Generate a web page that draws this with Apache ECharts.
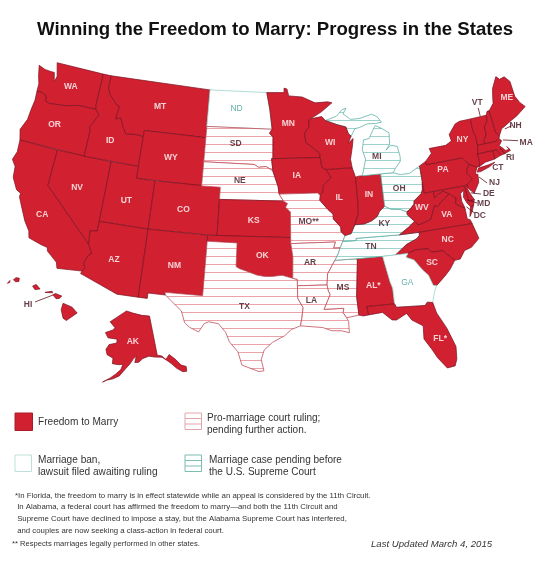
<!DOCTYPE html>
<html>
<head>
<meta charset="utf-8">
<style>html,body{margin:0;padding:0;background:#fff}#main{width:553px;height:562px}</style>
<script src="https://cdn.jsdelivr.net/npm/echarts@6/dist/echarts.min.js"></script>
</head>
<body>
<div id="main"></div>
<script>
var chartTitle = 'Winning the Freedom to Marry: Progress in the States';

// status of each state
var freedomStates = ['WA','OR','CA','NV','ID','MT','WY','UT','AZ','CO','NM','KS','OK','MN','IA','WI','IL','IN','WV','VA','NC','SC','PA','NY','VT','NH','ME','MA','RI','CT','NJ','DE','MD','DC','AL','FL','AK','HI'];
var courtRulingStates = ['SD','NE','TX','MO','AR','LA','MS'];
var banStates = ['ND','GA'];
var supremeCourtStates = ['MI','OH','KY','TN'];

var legendFreedom = ['Freedom to Marry'];
var legendCourt = ['Pro-marriage court ruling;', 'pending further action.'];
var legendBan = ['Marriage ban,', 'lawsuit filed awaiting ruling'];
var legendSupreme = ['Marriage case pending before', 'the U.S. Supreme Court'];
var footnotes = [
    '*In Florida, the freedom to marry is in effect statewide while an appeal is considered by the 11th Circuit.',
    ' In Alabama, a federal court has affirmed the freedom to marry\u2014and both the 11th Circuit and',
    ' Supreme Court have declined to impose a stay, but the Alabama Supreme Court has interfered,',
    ' and couples are now seeking a class-action in federal court.'
];
var footnote2 = '** Respects marriages legally performed in other states.';
var updated = 'Last Updated March 4, 2015';

// label suffixes
var labelText = {AL: 'AL*', FL: 'FL*', MO: 'MO**'};

// where each state's label sits [lon, lat]
var labelAnchor = {
    WA:[-120.4,47.35],OR:[-121.05,44],CA:[-119.8,36.55],NV:[-117,39.35],ID:[-114.6,43.65],MT:[-109.7,47.17],WY:[-107.7,43.1],
    UT:[-111.7,39.05],AZ:[-111.9,34.07],CO:[-105.7,38.9],NM:[-106,34.23],ND:[-100.75,47.55],SD:[-100.65,44.65],NE:[-100,41.65],
    KS:[-98.4,38.4],OK:[-97.45,35.5],TX:[-99.05,31.25],MN:[-94.7,46.4],IA:[-93.85,42.08],MO:[-92.75,38.3],AR:[-92.75,34.9],
    LA:[-92.75,31.75],WI:[-90,44.73],IL:[-89.45,40.08],MI:[-85,43.17],IN:[-86.3,40.17],OH:[-83.05,40.38],KY:[-85.05,37.67],
    TN:[-86.65,35.88],MS:[-89.7,32.72],AL:[-86.8,32.65],GA:[-83.55,32.62],FL:[-81.3,27.67],SC:[-80.9,33.98],NC:[-78.9,35.6],
    VA:[-78.45,37.67],WV:[-81,38.6],PA:[-77.9,41.36],NY:[-74.84,43.47],ME:[-68.71,45.94],
    VT:[-72.14,46.16],NH:[-68.66,43.54],MA:[-68.08,41.99],RI:[-70.21,41.1],CT:[-71.76,40.54],NJ:[-72.51,39.41],DE:[-73.35,38.63],MD:[-74.1,37.99],DC:[-74.83,37.09],
    AK:[-152.5,64],HI:[-158.64,20.12]
};

// leader lines from outside labels to small states
var leaders = [
    [[-72.18,45.74],[-72.19,45.06]],
    [[-69.09,43.62],[-69.91,43.52]],
    [[-68.87,42.3],[-70.44,42.68]],
    [[-70.62,41.52],[-70.98,42.1]],
    [[-73.25,39.55],[-73.93,40.17]],
    [[-74.15,38.77],[-75.3,39.05]],
    [[-74.8,38.11],[-75.9,38.55]],
    [[-75.35,37.35],[-76.1,37.99]],
    [[-158.09,20.35],[-156.69,20.88]]
];

var stateOutlines = {
    WA:[[[-124.73,48.38],[-123.9,48.17],[-123.2,48.15],[-122.75,48.15],[-122.45,47.4],[-122.3,47.9],[-122.76,49],[-117.03,49],[-117.04,46.42],[-116.92,45.99],[-118.98,46],[-119.3,45.93],[-120.5,45.7],[-121.2,45.65],[-122.3,45.55],[-122.76,45.65],[-122.9,46.1],[-123.4,46.25],[-124.05,46.27],[-124.1,46.9],[-124.4,47.5]]],
    OR:[[[-124.05,46.27],[-123.4,46.25],[-122.9,46.1],[-122.76,45.65],[-122.3,45.55],[-121.2,45.65],[-120.5,45.7],[-119.3,45.93],[-118.98,46],[-116.92,45.99],[-116.46,45.6],[-116.85,44.95],[-117.2,44.45],[-117.03,44.25],[-117.03,42],[-124.21,42],[-124.55,42.84],[-124.1,43.8],[-124.05,44.7],[-123.95,45.5]]],
    CA:[[[-124.21,42],[-120,42],[-120,39],[-114.63,35],[-114.14,34.3],[-114.43,34.1],[-114.72,33.4],[-114.52,33.03],[-114.72,32.72],[-117.12,32.53],[-117.3,33],[-118.4,33.75],[-118.5,34.03],[-119.2,34.15],[-120.47,34.45],[-120.65,34.98],[-121.3,35.7],[-121.9,36.6],[-122.5,37.5],[-122.5,37.8],[-123,38],[-123.7,38.9],[-123.85,39.8],[-124.35,40.3],[-124.1,41]]],
    NV:[[[-120,42],[-114.04,42],[-114.04,36.2],[-114.75,36.1],[-114.63,35],[-120,39]]],
    ID:[[[-117.03,49],[-116.05,49],[-116.05,48],[-115.7,47.45],[-114.7,46.7],[-114.35,46.65],[-114.5,45.55],[-113.95,45.7],[-113.45,44.95],[-113,44.45],[-112.3,44.55],[-111.5,44.55],[-111.05,44.48],[-111.05,42],[-117.03,42],[-117.03,44.25],[-117.2,44.45],[-116.85,44.95],[-116.46,45.6],[-116.92,45.99],[-117.04,46.42]]],
    MT:[[[-116.05,49],[-104.05,49],[-104.05,45],[-111.05,45],[-111.05,44.48],[-111.5,44.55],[-112.3,44.55],[-113,44.45],[-113.45,44.95],[-113.95,45.7],[-114.5,45.55],[-114.35,46.65],[-114.7,46.7],[-115.7,47.45],[-116.05,48]]],
    WY:[[[-111.05,45],[-104.05,45],[-104.05,41],[-111.05,41]]],
    UT:[[[-114.04,42],[-111.05,42],[-111.05,41],[-109.05,41],[-109.05,37],[-114.04,37]]],
    CO:[[[-109.05,41],[-102.05,41],[-102.05,37],[-109.05,37]]],
    AZ:[[[-114.04,37],[-109.05,37],[-109.05,31.33],[-111.07,31.33],[-114.81,32.5],[-114.72,32.72],[-114.52,33.03],[-114.72,33.4],[-114.43,34.1],[-114.14,34.3],[-114.63,35],[-114.75,36.1],[-114.04,36.2]]],
    NM:[[[-109.05,37],[-103,37],[-103.04,32],[-106.62,32],[-106.53,31.78],[-108.2,31.78],[-108.2,31.33],[-109.05,31.33]]],
    ND:[[[-104.05,49],[-97.23,49],[-96.85,47.6],[-96.56,45.94],[-104.05,45.94]]],
    SD:[[[-104.05,45.94],[-96.56,45.94],[-96.85,45.6],[-96.45,45.3],[-96.45,43.5],[-96.6,43.5],[-96.45,42.49],[-97.2,42.85],[-98,42.77],[-98.5,43],[-104.05,43]]],
    NE:[[[-104.05,43],[-98.5,43],[-98,42.77],[-97.2,42.85],[-96.45,42.49],[-96.1,41.7],[-95.88,41.2],[-95.77,40.58],[-95.31,40],[-102.05,40],[-102.05,41],[-104.05,41]]],
    KS:[[[-102.05,40],[-95.31,40],[-94.9,39.8],[-95.1,39.5],[-94.61,39.1],[-94.62,37],[-102.05,37]]],
    OK:[[[-103,37],[-94.62,37],[-94.62,36.5],[-94.43,35.4],[-94.48,33.64],[-95.5,33.9],[-96.5,33.8],[-97.2,33.8],[-97.95,33.9],[-98.95,34.2],[-99.7,34.4],[-100,34.56],[-100,36.5],[-103,36.5]]],
    TX:[[[-106.62,32],[-103.04,32],[-103,36.5],[-100,36.5],[-100,34.56],[-99.7,34.4],[-98.95,34.2],[-97.95,33.9],[-97.2,33.8],[-96.5,33.8],[-95.5,33.9],[-94.48,33.64],[-94.04,33.55],[-94.04,33.02],[-94.04,31.99],[-93.55,31.2],[-93.7,30.3],[-93.84,29.7],[-94.7,29.4],[-95.3,28.9],[-96.4,28.35],[-97.15,27.7],[-97.4,26.9],[-97.15,25.96],[-97.6,25.9],[-99.1,26.4],[-99.5,27.5],[-100.3,28.3],[-100.7,29.1],[-101.4,29.77],[-102.3,29.88],[-102.7,29.7],[-103.15,28.98],[-104,29.3],[-104.5,29.65],[-104.9,30.6],[-106,31.39],[-106.53,31.78]]],
    MN:[[[-97.23,49],[-95.15,49],[-95.15,49.38],[-94.8,49.3],[-94.6,48.72],[-93,48.6],[-91.5,48.07],[-90,48.1],[-89.5,48],[-90.8,47.3],[-92.1,46.75],[-92.3,46.65],[-92.3,46.1],[-92.85,45.6],[-92.75,44.8],[-91.9,44.3],[-91.25,43.85],[-91.22,43.5],[-96.45,43.5],[-96.45,45.3],[-96.85,45.6],[-96.56,45.94],[-96.85,47.6]]],
    IA:[[[-96.6,43.5],[-91.22,43.5],[-91.1,42.7],[-90.65,42.5],[-90.15,41.8],[-91.05,41.2],[-91.1,40.7],[-91.42,40.38],[-91.7,40.6],[-95.77,40.58],[-95.88,41.2],[-96.1,41.7],[-96.45,42.49]]],
    MO:[[[-95.77,40.58],[-91.7,40.6],[-91.42,40.38],[-91.5,40],[-90.7,39.2],[-90.2,38.8],[-90.2,38.4],[-89.5,37.7],[-89.5,37.3],[-89.13,36.98],[-89.4,36.5],[-89.7,36],[-90.37,36],[-90.15,36.5],[-94.62,36.5],[-94.62,37],[-94.61,39.1],[-95.1,39.5],[-94.9,39.8],[-95.31,40]]],
    AR:[[[-94.62,36.5],[-90.15,36.5],[-90.37,36],[-89.7,36],[-89.95,35.5],[-90.3,35],[-90.6,34.6],[-91.1,33.9],[-91.2,33],[-94.04,33.02],[-94.04,33.55],[-94.48,33.64],[-94.43,35.4]]],
    LA:[[[-94.04,33.02],[-91.2,33],[-91.1,32.5],[-90.95,32.2],[-91.6,31],[-89.75,31],[-89.85,30.65],[-89.55,30.2],[-89.4,29.9],[-89.4,28.95],[-90.1,29.15],[-91,29.2],[-91.8,29.5],[-92.3,29.55],[-93.84,29.7],[-93.7,30.3],[-93.55,31.2],[-94.04,31.99]]],
    MS:[[[-91.2,33],[-91.1,33.9],[-90.6,34.6],[-90.3,35],[-88.2,35],[-88.1,34.9],[-88.47,31.9],[-88.4,30.35],[-89.55,30.2],[-89.85,30.65],[-89.75,31],[-91.6,31],[-90.95,32.2],[-91.1,32.5]]],
    AL:[[[-88.2,35],[-85.6,35],[-85.18,32.87],[-85,32.3],[-85,31],[-87.6,31],[-87.5,30.3],[-88,30.25],[-88.4,30.35],[-88.47,31.9],[-88.1,34.9]]],
    TN:[[[-90.3,35],[-89.95,35.5],[-89.7,36],[-89.4,36.5],[-88.05,36.5],[-88.07,36.68],[-83.68,36.6],[-81.68,36.59],[-81.7,36.35],[-82,36.1],[-83.1,35.75],[-84.32,35],[-85.6,35],[-88.2,35]]],
    KY:[[[-89.4,36.5],[-89.13,36.98],[-88.5,37.1],[-88.05,37.8],[-87.1,37.8],[-86.3,38],[-85.7,38.3],[-85.4,38.7],[-84.8,39.1],[-84.25,38.8],[-83.2,38.65],[-82.6,38.4],[-82.6,38.15],[-81.97,37.54],[-82.7,37.1],[-83.68,36.6],[-88.07,36.68],[-88.05,36.5]]],
    IL:[[[-90.65,42.5],[-87.8,42.5],[-87.53,41.7],[-87.53,39.35],[-87.6,38.7],[-88.05,37.8],[-88.5,37.1],[-89.13,36.98],[-89.5,37.3],[-89.5,37.7],[-90.2,38.4],[-90.2,38.8],[-90.7,39.2],[-91.5,40],[-91.42,40.38],[-91.1,40.7],[-91.05,41.2],[-90.15,41.8]]],
    IN:[[[-87.53,41.7],[-87.2,41.76],[-84.8,41.76],[-84.8,39.1],[-85.4,38.7],[-85.7,38.3],[-86.3,38],[-87.1,37.8],[-88.05,37.8],[-87.6,38.7],[-87.53,39.35]]],
    OH:[[[-84.8,41.76],[-83.45,41.73],[-82.7,41.5],[-81.7,41.5],[-80.52,41.98],[-80.52,40.64],[-80.65,40],[-80.85,39.7],[-81.7,39.2],[-81.75,38.95],[-82.2,38.6],[-82.6,38.4],[-83.2,38.65],[-84.25,38.8],[-84.8,39.1]]],
    WV:[[[-80.52,40.64],[-80.52,39.72],[-79.48,39.72],[-79.48,39.2],[-78.9,39.45],[-78.4,39.62],[-77.72,39.32],[-78.35,39],[-78.87,38.76],[-79.3,38.42],[-79.65,38.55],[-80.3,37.5],[-81.25,37.25],[-81.68,37.2],[-81.97,37.54],[-82.6,38.15],[-82.6,38.4],[-82.2,38.6],[-81.75,38.95],[-81.7,39.2],[-80.85,39.7],[-80.65,40]]],
    VA:[[[-83.68,36.6],[-82.7,37.1],[-81.97,37.54],[-81.68,37.2],[-81.25,37.25],[-80.3,37.5],[-79.65,38.55],[-79.3,38.42],[-78.87,38.76],[-78.35,39],[-77.72,39.32],[-77.05,38.85],[-77.25,38.4],[-76.3,37.9],[-76.3,37],[-76,36.9],[-75.87,36.55],[-81.68,36.59]],[[-75.95,37.15],[-75.65,37.95],[-75.25,38.03],[-75.6,37.5]]],
    DC:[[[-77.12,38.93],[-77.04,39],[-76.91,38.89],[-77.04,38.8]]],
    MD:[[[-79.48,39.72],[-75.79,39.72],[-75.7,38.46],[-75.05,38.45],[-75.25,38.03],[-75.65,37.95],[-75.95,38.3],[-76.2,38.8],[-76,39.4],[-76.45,39.15],[-76.5,38.5],[-76.35,38.1],[-76.3,37.9],[-77.25,38.4],[-77.05,38.85],[-77.72,39.32],[-78.4,39.62],[-78.9,39.45],[-79.48,39.2]]],
    DE:[[[-75.79,39.72],[-75.41,39.8],[-75.55,39.45],[-75.4,39.05],[-75.05,38.45],[-75.7,38.46]]],
    PA:[[[-80.52,41.98],[-79.76,42.27],[-79.76,42],[-75.35,42],[-74.7,41.36],[-75.13,40.98],[-75.2,40.68],[-74.72,40.15],[-75.41,39.8],[-75.79,39.72],[-80.52,39.72]]],
    NJ:[[[-74.7,41.36],[-73.9,41],[-74.25,40.5],[-73.98,40.4],[-74.1,39.75],[-74.9,38.95],[-75.5,39.5],[-75.41,39.8],[-74.72,40.15],[-75.2,40.68],[-75.13,40.98]]],
    NY:[[[-79.76,42.27],[-78.9,42.85],[-79.05,43.27],[-77,43.28],[-76.2,43.55],[-76.3,44.1],[-75.3,44.85],[-74.7,45],[-73.35,45],[-73.4,44],[-73.25,43.55],[-73.27,42.75],[-73.5,42.05],[-73.5,41.3],[-73.65,41],[-73.9,41],[-74.7,41.36],[-75.35,42],[-79.76,42]],[[-74,40.6],[-73.75,40.9],[-72.6,40.98],[-71.9,41.07],[-72.6,40.8],[-73.6,40.58]]],
    VT:[[[-73.35,45],[-71.5,45],[-71.6,44.5],[-72.05,44.1],[-72.05,43.5],[-72.45,43],[-72.46,42.73],[-73.27,42.75],[-73.25,43.55],[-73.4,44]]],
    NH:[[[-71.5,45],[-71.3,45.3],[-71.05,45.3],[-70.98,43.4],[-70.7,43.07],[-70.82,42.87],[-71.3,42.7],[-72.46,42.73],[-72.45,43],[-72.05,43.5],[-72.05,44.1],[-71.6,44.5]]],
    ME:[[[-71.05,45.3],[-70.4,45.8],[-70.25,46.3],[-70,47],[-69.23,47.9],[-68.9,47.6],[-68.3,47.7],[-67.8,47.2],[-67.78,45.9],[-67.45,45.3],[-67,44.85],[-68.2,44.3],[-69,44.05],[-69.8,43.75],[-70.25,43.6],[-70.7,43.07],[-70.98,43.4]]],
    MA:[[[-73.5,42.05],[-73.27,42.75],[-72.46,42.73],[-71.3,42.7],[-70.82,42.87],[-70.6,42.65],[-71,42.3],[-70.65,42],[-70.5,41.8],[-70,41.8],[-70.25,42.07],[-69.95,41.7],[-70.65,41.55],[-71.12,41.5],[-71.38,42.02],[-71.8,42.02]]],
    RI:[[[-71.8,42.02],[-71.38,42.02],[-71.12,41.5],[-71.85,41.32]]],
    CT:[[[-73.5,42.05],[-71.8,42.02],[-71.85,41.32],[-72.9,41.25],[-73.65,41],[-73.5,41.3]]],
    MI:[[[-86.8,41.76],[-84.8,41.76],[-83.45,41.73],[-83.15,42.05],[-82.5,42.6],[-82.45,43],[-82.6,43.85],[-83.3,44],[-83.9,43.65],[-83.4,44.1],[-83.3,45.05],[-84.1,45.5],[-84.75,45.78],[-85.1,45.4],[-85.6,44.77],[-86.25,44.7],[-86.5,43.9],[-86.25,43.1],[-86.6,42.2]],[[-90.4,46.55],[-89.1,46.85],[-88.4,47.35],[-87.9,47.47],[-88.3,47],[-87.5,46.5],[-86.5,46.5],[-85,46.75],[-84.4,46.5],[-84,46],[-84.7,45.95],[-85.6,46],[-86.6,45.75],[-87.1,45.7],[-87.6,45.1],[-87.9,45.35],[-88.1,45.9],[-89.1,46.15]]],
    WI:[[[-92.3,46.65],[-92.1,46.75],[-90.8,46.9],[-90.4,46.55],[-89.1,46.15],[-88.1,45.9],[-87.9,45.35],[-87.6,45.1],[-88,44.55],[-87.4,44.9],[-87.55,44.3],[-87.9,43.2],[-87.8,42.5],[-90.65,42.5],[-91.1,42.7],[-91.22,43.5],[-91.25,43.85],[-91.9,44.3],[-92.75,44.8],[-92.85,45.6],[-92.3,46.1]]],
    NC:[[[-84.32,35],[-83.1,35.75],[-82,36.1],[-81.7,36.35],[-81.68,36.59],[-75.87,36.55],[-75.5,35.25],[-76.5,34.65],[-77.3,34.5],[-77.95,33.87],[-78.55,33.85],[-79.67,34.8],[-80.8,34.82],[-81.05,35.15],[-82.3,35.2],[-83.1,35]]],
    SC:[[[-83.1,35],[-82.3,35.2],[-81.05,35.15],[-80.8,34.82],[-79.67,34.8],[-78.55,33.85],[-79.2,33.2],[-79.9,32.7],[-80.85,32.03],[-81.15,32.1],[-81.45,33],[-81.9,33.45],[-82.6,34.4],[-83.35,34.7]]],
    GA:[[[-85.6,35],[-84.32,35],[-83.1,35],[-83.35,34.7],[-82.6,34.4],[-81.9,33.45],[-81.45,33],[-81.15,32.1],[-80.85,32.03],[-81.15,31.5],[-81.45,30.7],[-81.95,30.8],[-82.2,30.55],[-84.86,30.7],[-85,31],[-85,32.3],[-85.18,32.87]]],
    FL:[[[-87.6,31],[-85,31],[-84.86,30.7],[-82.2,30.55],[-81.95,30.8],[-81.45,30.7],[-81.25,29.8],[-80.55,28.4],[-80.03,26.8],[-80.15,25.75],[-80.4,25.2],[-81.1,25.13],[-81.8,26.1],[-82.2,26.9],[-82.75,27.8],[-82.65,28.9],[-83.6,29.5],[-84,30.1],[-85,29.65],[-85.4,29.7],[-86.2,30.4],[-87.5,30.3]]],
    AK:[[[-141,69.65],[-141,60.3],[-139,59.9],[-137.5,58.9],[-135.5,59.8],[-133.5,58.4],[-131.8,56.6],[-130,55.9],[-130.5,54.8],[-132,55],[-134,56.2],[-135.5,57.5],[-136.5,58.2],[-139,59.6],[-142.5,60],[-145,60.4],[-148,60],[-150,59.2],[-151.8,59.2],[-151,60.7],[-152.5,60],[-154,58.9],[-156.5,57.4],[-158.5,56],[-161,55.2],[-163.5,54.7],[-165,54.1],[-162,55.4],[-160,56.4],[-158,57.5],[-157.2,58.8],[-159,58.6],[-162,58.7],[-162,60],[-165,60.6],[-166,61.8],[-164.8,63],[-161,63.6],[-161,64.5],[-166,64.5],[-168,65.6],[-164,66.5],[-163,67.1],[-166.5,68.3],[-163,69.5],[-156.5,71.3],[-152,70.8],[-146,70.1]]],
    HI:[[[-160.25,21.78],[-160.05,22],[-160.07,21.85]],[[-159.78,22.05],[-159.58,22.22],[-159.32,22.18],[-159.35,21.93],[-159.6,21.9]],[[-158.28,21.57],[-158,21.7],[-157.7,21.35],[-158.1,21.3]],[[-157.3,21.1],[-156.75,21.17],[-156.72,21.05],[-157.3,21.08]],[[-156.7,20.9],[-156.5,21],[-156,20.8],[-156.2,20.62],[-156.45,20.6]],[[-155.9,20.25],[-155.2,19.95],[-154.8,19.5],[-155.65,18.92],[-155.9,19.1],[-156.05,19.75]]]
};

var RED = '#d1202f', DARK = '#7a1222', STRIPE_RED = '#e9a3a9', EDGE_RED = '#c2505c', TEAL = '#9dd3ca', EDGE_TEAL = '#5fb3a8';

function rad(d) { return d * Math.PI / 180; }

function conic(lat1, lat2, lon0) {
    var n = (Math.sin(rad(lat1)) + Math.sin(rad(lat2))) / 2;
    var c = Math.pow(Math.cos(rad(lat1)), 2) + 2 * n * Math.sin(rad(lat1));
    return function (lon, lat) {
        var rho = Math.sqrt(c - 2 * n * Math.sin(rad(lat))) / n;
        var t = n * rad(lon - lon0);
        return [rho * Math.sin(t), rho * Math.cos(t)];
    };
}
var lower48 = conic(29.5, 45.5, -96);
var alaska = conic(55, 65, -154);

// lower 48 albers, alaska and hawaii moved to their insets, output in page pixels
function project(p) {
    var lon = p[0], lat = p[1], q;
    if (lat > 51) {
        q = alaska(lon, lat);
        return [130 + 245 * q[0], 217.7 + 245 * q[1]];
    }
    if (lat < 25 && lon < -150) {
        return [49 + 12.8 * (lon + 157), 300 - 13 * (lat - 20.5)];
    }
    // the original pulls the mid-atlantic and new england coast in a little
    if (lon > -74) lon -= 0.6;
    else if (lon > -80) lon -= (lon + 80) * 0.1;
    q = lower48(lon, lat);
    return [277 + 718 * q[0], 690 * q[1] - 667.7];
}

function statusOf(name) {
    if (courtRulingStates.indexOf(name) >= 0) return 'court';
    if (banStates.indexOf(name) >= 0) return 'ban';
    if (supremeCourtStates.indexOf(name) >= 0) return 'supreme';
    return 'freedom';
}

function stripes(color) {
    var c = document.createElement('canvas');
    c.width = 8; c.height = 8;
    var ctx = c.getContext('2d');
    ctx.fillStyle = '#fff';
    ctx.fillRect(0, 0, 8, 8);
    ctx.fillStyle = color;
    ctx.fillRect(0, 0, 8, 1);
    return {image: c, repeat: 'repeat'};
}

var regionStyle = {
    freedom: {areaColor: RED, borderColor: DARK, borderWidth: 0.7},
    court: {areaColor: stripes(STRIPE_RED), borderColor: EDGE_RED, borderWidth: 0.8},
    ban: {areaColor: '#fff', borderColor: TEAL, borderWidth: 0.8},
    supreme: {areaColor: stripes(TEAL), borderColor: EDGE_TEAL, borderWidth: 0.8}
};

var names = Object.keys(stateOutlines);
var features = names.map(function (name) {
    return {type: 'Feature', properties: {name: name}, geometry: {type: 'MultiPolygon', coordinates: stateOutlines[name].map(function (r) { return [r]; })}};
});
echarts.registerMap('usa', {type: 'FeatureCollection', features: features});

// bounds in page pixels so that the map is laid out at scale 1
var xs = [], ys = [];
names.forEach(function (name) {
    stateOutlines[name].forEach(function (ring) {
        ring.forEach(function (p) {
            var q = project(p);
            xs.push(q[0]); ys.push(q[1]);
        });
    });
});
var minX = Math.min.apply(null, xs), maxX = Math.max.apply(null, xs), minY = Math.min.apply(null, ys), maxY = Math.max.apply(null, ys);

var labelData = names.map(function (name) {
    var st = statusOf(name);
    var outside = ['VT','NH','MA','RI','CT','NJ','DE','MD','DC','HI'].indexOf(name) >= 0;
    var color = '#fff';
    if (st === 'court' || st === 'supreme' || outside) color = '#3f0f1a';
    if (st === 'ban') color = '#3d9c96';
    return {
        name: labelText[name] || name,
        value: labelAnchor[name],
        label: {color: color, fontWeight: st === 'ban' ? 'normal' : 'bold'}
    };
});

function textItems(lines, x, y, step, size, color, style) {
    return lines.map(function (line, i) {
        return {type: 'text', left: x, top: y + i * step, silent: true,
            style: {text: line, fill: color, fontSize: size, fontFamily: 'Liberation Sans', fontStyle: style || 'normal'}};
    });
}

function swatch(x, y, w, fill, stroke, lines) {
    var out = [{type: 'rect', silent: true, shape: {x: x, y: y, width: w, height: w}, style: {fill: fill, stroke: stroke, lineWidth: 1}}];
    if (lines) {
        [1, 2].forEach(function (k) {
            var ly = y + w * k / 3;
            out.push({type: 'line', silent: true, shape: {x1: x, y1: ly, x2: x + w, y2: ly}, style: {stroke: stroke, lineWidth: 1}});
        });
    }
    return out;
}

var graphics = [].concat(
    swatch(15, 413, 17.5, RED, '#a81c2a', false),
    swatch(185, 413, 16.5, '#fff', '#e3a5aa', true),
    swatch(15, 455, 16.5, '#fff', '#bfe0da', false),
    swatch(185, 455, 16.5, '#fff', '#7dbdb2', true),
    textItems(legendFreedom, 38, 417, 12, 10.1, '#333'),
    textItems(legendCourt, 207, 413, 12, 10, '#333'),
    textItems(legendBan, 38, 455, 12, 10.1, '#333'),
    textItems(legendSupreme, 209, 455, 12, 10, '#333'),
    textItems(footnotes, 15, 491.5, 11.7, 7.8, '#333'),
    textItems([footnote2], 12, 540, 12, 7.6, '#333'),
    textItems([updated], 371, 539, 12, 9.6, '#333', 'italic')
);

var myChart = echarts.init(document.getElementById('main'));
myChart.setOption({
    animation: false,
    title: {
        text: chartTitle, left: 32, top: 15,
        textStyle: {fontFamily: 'Liberation Sans', fontWeight: 'bold', fontSize: 18.6, color: '#111'}
    },
    geo: {
        map: 'usa',
        silent: true,
        roam: false,
        projection: {
            project: project,
            unproject: function (p) { return p; }
        },
        layoutCenter: [(minX + maxX) / 2, (minY + maxY) / 2],
        layoutSize: Math.max(maxX - minX, maxY - minY),
        itemStyle: regionStyle.freedom,
        label: {show: false},
        regions: names.map(function (name) {
            return {name: name, itemStyle: regionStyle[statusOf(name)]};
        })
    },
    graphic: graphics,
    series: [
        {
            type: 'lines',
            coordinateSystem: 'geo',
            silent: true,
            lineStyle: {color: '#5a1320', width: 0.8, opacity: 1, curveness: 0},
            data: leaders.map(function (l) { return {coords: l}; })
        },
        {
            type: 'scatter',
            coordinateSystem: 'geo',
            silent: true,
            symbolSize: 0,
            label: {show: true, position: 'inside', formatter: '{b}', fontFamily: 'Liberation Sans', fontSize: 8.5},
            data: labelData
        }
    ]
});
</script>
</body>
</html>
